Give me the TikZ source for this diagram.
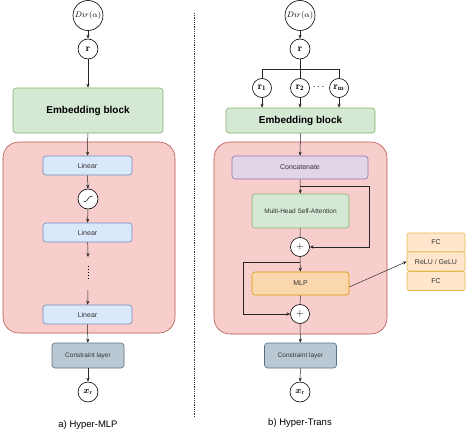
\documentclass[tikz,border=0pt]{standalone}
\usepackage{fontspec}
\usepackage{amsmath,bm}
\newfontfamily\lsans{Liberation Sans}
\usetikzlibrary{arrows.meta}
\definecolor{gfill}{HTML}{D5E8D4}\definecolor{gline}{HTML}{82B366}
\definecolor{rfill}{HTML}{F8CECC}\definecolor{rline}{HTML}{B85450}
\definecolor{bfill}{HTML}{DAE8FC}\definecolor{bline}{HTML}{6C8EBF}
\definecolor{pfill}{HTML}{E1D5E7}\definecolor{pline}{HTML}{9673A6}
\definecolor{ofill}{HTML}{FAD7AC}\definecolor{oline}{HTML}{D79B00}
\definecolor{lofill}{HTML}{FFE6CC}
\definecolor{cfill}{HTML}{BAC8D3}\definecolor{cline}{HTML}{5B7186}
\begin{document}
\begin{tikzpicture}[x=1pt,y=-1pt,
  blk/.style={draw, rounded corners=3pt, line width=0.6pt, inner sep=0pt, align=center,
    font=\lsans\fontsize{7}{8}\selectfont, text=black!80},
  embed/.style={blk, fill=gfill, draw=gline, font=\lsans\bfseries\fontsize{10}{12}\selectfont, text=black},
  container/.style={draw=rline, fill=rfill, rounded corners=16pt, line width=0.6pt},
  lin/.style={blk, fill=bfill, draw=bline, minimum width=89pt, minimum height=19pt},
  cons/.style={blk, fill=cfill, draw=cline, minimum width=72pt, minimum height=25pt, font=\lsans\fontsize{6.5}{8}\selectfont},
  fcbox/.style={blk, fill=lofill, draw=oline!70, rounded corners=2pt, minimum width=58pt, minimum height=19pt},
  circ/.style={circle, draw, fill=white, inner sep=0pt, line width=0.6pt, minimum size=20pt},
  dirc/.style={circ, minimum size=30pt, font=\fontsize{8.5}{9}\selectfont},
  arr/.style={-{Stealth[length=4pt,width=3.2pt]}, line width=0.5pt, draw=black!85},
  ln/.style={line width=0.5pt, draw=black!85},
  captxt/.style={font=\lsans\fontsize{9.5}{11}\selectfont}
]
\useasboundingbox (0,0) rectangle (474,444);

% ---------------- left panel ----------------
\node[container, minimum width=172pt, minimum height=191pt] (redA) at (89,237.5) {};
\node[dirc] (dirA) at (88,15.5) {$Dir(\alpha)$};
\node[circ] (rA) at (88,49) {$\mathbf{r}$};
\node[embed, minimum width=150pt, minimum height=45pt] (embA) at (88,110.5) {Embedding block};
\node[lin] (lin1) at (87.5,165.5) {Linear};
\node[circ] (sig) at (88,199) {};
\draw[line width=0.5pt] ([shift={(-4.5,3)}]sig.center) .. controls ([shift={(1,3)}]sig.center) and ([shift={(-1,-3)}]sig.center) .. ([shift={(4.5,-3)}]sig.center);
\node[lin] (lin2) at (87.5,232.5) {Linear};
\node[lin] (lin3) at (87.5,314.5) {Linear};
\coordinate (dA1) at (88,257);
\coordinate (dA2) at (88,290);
\node[cons] (consA) at (88,355.5) {Constraint layer};
\node[circ, font=\fontsize{9}{10}\selectfont] (xA) at (88,392) {$\bm{x}_{\mathbf r}$};
\node[captxt] (capA) at (88,425) {a) Hyper-MLP};

\draw[arr] (dirA) -- (rA);
\draw[arr] (rA) -- (embA);
\draw[arr] (embA) -- (lin1);
\draw[arr] (lin1) -- (sig);
\draw[arr] (sig) -- (lin2);
\draw[arr] (lin2) -- (dA1);
\draw[line width=0.9pt, dash pattern=on 0.9pt off 2.2pt] (88,266) -- (88,281);
\draw[arr] (dA2) -- (lin3);
\draw[arr] (lin3) -- (consA);
\draw[arr] (consA) -- (xA);

% divider
\coordinate (divT) at (194,13);
\coordinate (divB) at (194,417);
\draw[line width=0.7pt, dash pattern=on 0.8pt off 1pt, black!80] (divT) -- (divB);

% ---------------- right panel ----------------
\node[container, minimum width=173pt, minimum height=192pt] (redB) at (300.5,238) {};
\node[dirc] (dirB) at (300,15.5) {$Dir(\alpha)$};
\node[circ] (rB) at (300,49) {$\mathbf{r}$};
\node[circ, minimum size=19pt] (r1) at (262,88) {$\mathbf{r_1}$};
\node[circ, minimum size=19pt] (r2) at (300,88) {$\mathbf{r_2}$};
\node[circ, minimum size=19pt] (rm) at (339,88) {$\mathbf{r_m}$};
\node (dotsB) at (319.5,87) {$\cdots$};
\coordinate (bL) at (262,69);
\coordinate (bM) at (300,69);
\coordinate (bR) at (339,69);
\node[embed, minimum width=149pt, minimum height=25pt] (embB) at (300.5,120.5) {Embedding block};
\node[blk, fill=pfill, draw=pline, minimum width=136pt, minimum height=23pt] (cat) at (300,167.5) {Concatenate};
\node[blk, fill=gfill, draw=gline, minimum width=97pt, minimum height=34pt, font=\lsans\fontsize{6.5}{8}\selectfont] (mhsa) at (300.5,211) {Multi-Head Self-Attention};
\node[circ, minimum size=19pt, font=\fontsize{10}{10}\selectfont] (p1) at (300,247) {$+$};
\node[blk, fill=ofill, draw=oline, minimum width=97pt, minimum height=23pt] (mlp) at (300.5,283.5) {MLP};
\node[circ, minimum size=19pt, font=\fontsize{10}{10}\selectfont] (p2) at (300,314) {$+$};
\node[fcbox] (fc1) at (436,242.5) {FC};
\node[fcbox] (act) at (436,261.5) {ReLU / GeLU};
\node[fcbox] (fc2) at (436,281) {FC};
\node[cons] (consB) at (300.5,355.5) {Constraint layer};
\node[circ, font=\fontsize{9}{10}\selectfont] (xB) at (300,392) {$\bm{x}_{\mathbf r}$};
\node[captxt] (capB) at (300,423) {b) Hyper-Trans};

\draw[arr] (dirB) -- (rB);
\draw[ln] (rB) -- (bM);
\draw[ln] (bL) -- (bR);
\draw[ln] (bL) -- (r1);
\draw[ln] (bM) -- (r2);
\draw[ln] (bR) -- (rm);
\draw[arr] (r1) -- (r1 |- embB.north);
\draw[arr] (r2) -- (r2 |- embB.north);
\draw[arr] (rm) -- (rm |- embB.north);
\draw[arr] (embB) -- (cat);
\draw[arr] (cat) -- (mhsa);
\coordinate (sk1) at (300,186);
\draw[arr] (sk1) -- (369,186) -- (369,247) -- (p1);
\draw[ln] (mhsa) -- (p1);
\draw[arr] (p1) -- (mlp);
\coordinate (sk2) at (300,262);
\draw[arr] (sk2) -- (243,262) -- (243,314) -- (p2);
\draw[ln] (mlp) -- (p2);
\draw[arr] (mlp.east |- 0,287) -- (act.west);
\draw[arr] (p2) -- (consB);
\draw[arr] (consB) -- (xB);
\end{tikzpicture}
\end{document}
